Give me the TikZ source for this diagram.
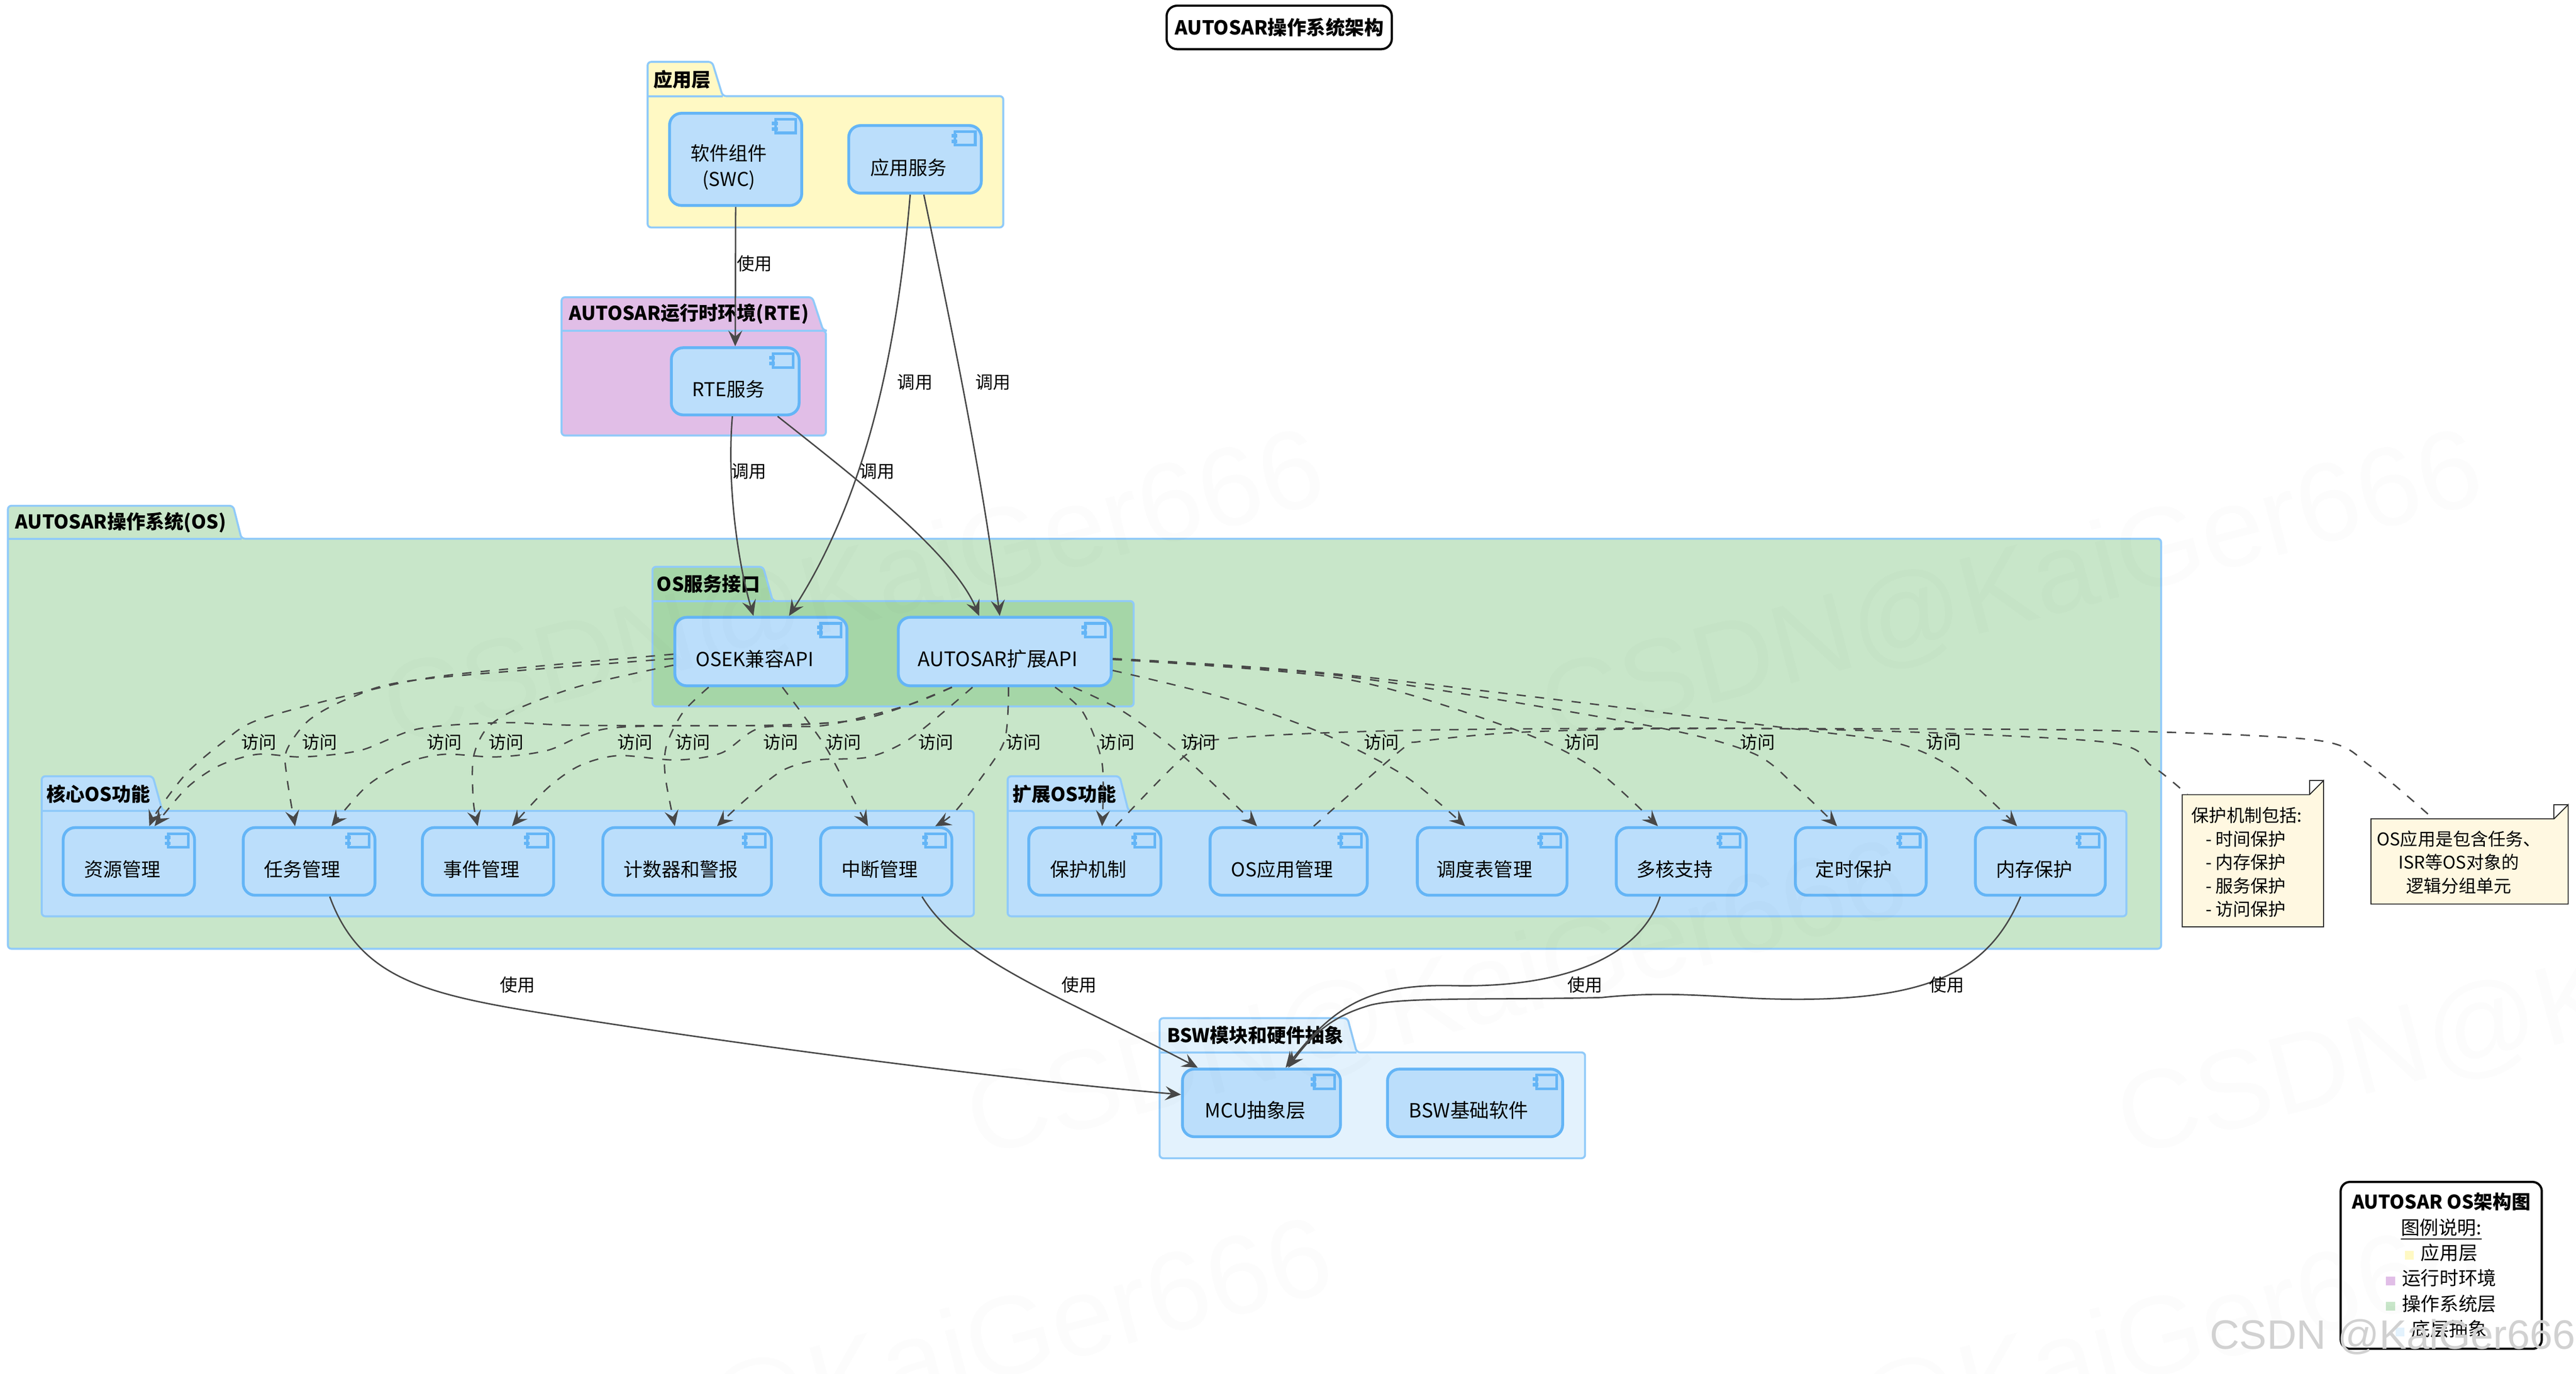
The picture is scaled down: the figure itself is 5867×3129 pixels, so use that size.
\documentclass[tikz,border=0pt]{standalone}
\usepackage{fontspec}
\setmainfont{Noto Sans CJK SC}
\newfontfamily\wmfont{Liberation Sans}
\usetikzlibrary{arrows.meta}
\definecolor{pkgline}{HTML}{90CAF9}
\definecolor{compline}{HTML}{64B5F6}
\definecolor{compfill}{HTML}{BBDEFB}
\definecolor{appfill}{HTML}{FFF9C4}
\definecolor{rtefill}{HTML}{E1BEE7}
\definecolor{osfill}{HTML}{C8E6C9}
\definecolor{apifill}{HTML}{A5D6A7}
\definecolor{bswfill}{HTML}{E3F2FD}
\definecolor{notefill}{HTML}{FFF8E1}
\definecolor{linkcol}{HTML}{484848}
\tikzset{
  dims/.style 2 args={minimum width=#1*0.2pt,minimum height=#2*0.2pt},
  comp/.style={draw=compline,fill=compfill,line width=1.3pt,rounded corners=5.4pt,inner sep=0pt},
  pkg/.style={draw=pkgline,line width=0.9pt,rounded corners=1.6pt},
  pkgtitle/.style={inner sep=0pt,font=\fontsize{8.7}{11}\selectfont\bfseries},
  comptext/.style={inner sep=0pt,align=center,font=\fontsize{8.7}{11.6}\selectfont},
  linktext/.style={inner sep=0pt,font=\fontsize{8}{10}\selectfont},
  notetext/.style={inner sep=0pt,font=\fontsize{8}{10.7}\selectfont},
  notebox/.style={inner sep=0pt},
  noteline/.style={draw=black!85,fill=notefill,line width=0.45pt},
  uselink/.style={draw=linkcol,line width=0.65pt,-{Stealth[length=7.2pt,width=6.4pt,inset=2.8pt]}},
  dashlink/.style={uselink,dash pattern=on 4.2pt off 4.2pt},
  notelink/.style={draw=linkcol,line width=0.65pt,dash pattern=on 4.2pt off 4.2pt},
  wmark/.style={inner sep=0pt,rotate=14.7,text=black,text opacity=0.012,font=\wmfont\fontsize{51}{51}\selectfont},
}
\newcommand{\compicon}[1]{%
  \draw[draw=compline,fill=compfill,line width=1.2pt] (#1.north east) ++(-63,17) rectangle ++(46,31);
  \fill[compline] (#1.north east) ++(-71,22) rectangle ++(13,8);
  \fill[compline] (#1.north east) ++(-71,35) rectangle ++(13,8);
}
\newcommand{\swatch}[1]{\textcolor{#1}{\rule{4pt}{4pt}}\hspace{3.2pt}}
\newcommand{\notefold}[1]{%
  \draw[noteline] (#1.north west) -- ([xshift=-6.4pt]#1.north east) -- ([yshift=-6.4pt]#1.north east) -- (#1.south east) -- (#1.south west) -- cycle;
  \draw[noteline,fill=none] ([xshift=-6.4pt]#1.north east) -- ([xshift=-6.4pt,yshift=-6.4pt]#1.north east) -- ([yshift=-6.4pt]#1.north east);
}
\begin{document}
\begin{tikzpicture}[x=0.2pt,y=0.2pt,yscale=-1,xscale=1]
\clip (0,0) rectangle (5867,3129);

% Title
\node (title) [draw=black,line width=1pt,rounded corners=4.8pt,inner sep=0pt,dims={513}{99},font=\fontsize{8.8}{11}\selectfont\bfseries] at (2913.5,62.5) {AUTOSAR操作系统架构};

%Package: application layer
\draw [pkg,fill=appfill] (1475,219) -- (1475,141) -- (1622,141) -- (1646,219) -- (2285,219) -- (2285,518) -- (1475,518) -- cycle;
\draw [pkg] (1475,219) -- (1646,219);
\node (apptitle) [pkgtitle] at (1554,181) {应用层};
%Package: runtime environment
\draw [pkg,fill=rtefill] (1279,753) -- (1279,677) -- (1850,677) -- (1875,753) -- (1881,753) -- (1881,992) -- (1279,992) -- cycle;
\draw [pkg] (1279,753) -- (1875,753);
\node (rtetitle) [pkgtitle] at (1569,715) {AUTOSAR运行时环境(RTE)};
%Package: operating system
\draw [pkg,fill=osfill] (18,1227) -- (18,1152) -- (531,1152) -- (550,1227) -- (4922,1227) -- (4922,2161) -- (18,2161) -- cycle;
\draw [pkg] (18,1227) -- (550,1227);
\node (ostitle) [pkgtitle] at (275,1190) {AUTOSAR操作系统(OS)};
%Package: service interface
\draw [pkg,fill=apifill] (1486,1369) -- (1486,1291) -- (1738,1291) -- (1760,1369) -- (2582,1369) -- (2582,1609) -- (1486,1609) -- cycle;
\draw [pkg] (1486,1369) -- (1760,1369);
\node (apititle) [pkgtitle] at (1614,1330) {OS服务接口};
%Package: core functions
\draw [pkg,fill=compfill] (95,1847) -- (95,1768) -- (348,1768) -- (370,1847) -- (2218,1847) -- (2218,2087) -- (95,2087) -- cycle;
\draw [pkg] (95,1847) -- (370,1847);
\node (coretitle) [pkgtitle] at (224,1809) {核心OS功能};
%Package: extended functions
\draw [pkg,fill=compfill] (2295,1847) -- (2295,1768) -- (2550,1768) -- (2570,1847) -- (4843,1847) -- (4843,2087) -- (2295,2087) -- cycle;
\draw [pkg] (2295,1847) -- (2570,1847);
\node (exttitle) [pkgtitle] at (2424,1809) {扩展OS功能};
%Package: BSW
\draw [pkg,fill=bswfill] (2641,2397) -- (2641,2319) -- (3069,2319) -- (3090,2397) -- (3610,2397) -- (3610,2638) -- (2641,2638) -- cycle;
\draw [pkg] (2641,2397) -- (3090,2397);
\node (bswtitle) [pkgtitle] at (2859,2358) {BSW模块和硬件抽象};

%Components
\node (swc) [comp,dims={301}{210}] at (1675.5,363) {};
\node (appsvc) [comp,dims={302}{154}] at (2084,363) {};
\node (rte) [comp,dims={291}{153}] at (1674.5,868.5) {};
\node (osek) [comp,dims={392}{156}] at (1733,1484) {};
\node (api) [comp,dims={485}{156}] at (2288.5,1484) {};
\node (res) [comp,dims={299}{154}] at (293.5,1962) {};
\node (task) [comp,dims={300}{154}] at (704,1962) {};
\node (evt) [comp,dims={299}{154}] at (1111.5,1962) {};
\node (alarm) [comp,dims={384}{154}] at (1565,1962) {};
\node (irq) [comp,dims={299}{154}] at (2018.5,1962) {};
\node (prot) [comp,dims={301}{154}] at (2493.5,1962) {};
\node (osapp) [comp,dims={358}{154}] at (2935,1962) {};
\node (sched) [comp,dims={341}{154}] at (3398.5,1962) {};
\node (mcore) [comp,dims={296}{154}] at (3829,1962) {};
\node (tmprot) [comp,dims={298}{154}] at (4238,1962) {};
\node (memprot) [comp,dims={296}{154}] at (4647,1962) {};
\node (mcu) [comp,dims={360}{154}] at (2873,2512) {};
\node (bswsw) [comp,dims={399}{154}] at (3359.5,2512) {};
\compicon{swc} \compicon{appsvc} \compicon{rte} \compicon{osek} \compicon{api}
\compicon{res} \compicon{task} \compicon{evt} \compicon{alarm} \compicon{irq}
\compicon{prot} \compicon{osapp} \compicon{sched} \compicon{mcore} \compicon{tmprot} \compicon{memprot}
\compicon{mcu} \compicon{bswsw}

% Text Node
\node (swctext) [comptext] at (1660,381) {软件组件\\(SWC)};
\node (appsvctext) [comptext] at (2069,382) {应用服务};
\node (rtetext) [comptext] at (1659,886) {RTE服务};
\node (osektext) [comptext,font=\fontsize{8.8}{11.6}\selectfont] at (1719,1501) {OSEK兼容API};
\node (apitext) [comptext,font=\fontsize{9.1}{11.6}\selectfont] at (2272,1501) {AUTOSAR扩展API};
\node (restext) [comptext] at (279,1980) {资源管理};
\node (tasktext) [comptext] at (688,1980) {任务管理};
\node (evttext) [comptext] at (1097,1980) {事件管理};
\node (alarmtext) [comptext] at (1551,1980) {计数器和警报};
\node (irqtext) [comptext] at (2004,1980) {中断管理};
\node (prottext) [comptext] at (2479,1980) {保护机制};
\node (osapptext) [comptext] at (2920,1980) {OS应用管理};
\node (schedtext) [comptext] at (3381,1980) {调度表管理};
\node (mcoretext) [comptext] at (3814,1980) {多核支持};
\node (tmprottext) [comptext] at (4222,1980) {定时保护};
\node (memprottext) [comptext] at (4633,1980) {内存保护};
\node (mcutext) [comptext,font=\fontsize{8.9}{11.6}\selectfont] at (2859,2529) {MCU抽象层};
\node (bswswtext) [comptext,font=\fontsize{8.9}{11.6}\selectfont] at (3345,2529) {BSW基础软件};

%Notes
\node (note1) [notebox,dims={320}{299}] at (5131,1960.5) {};
\notefold{note1}
\node (note1text) [notetext,align=left] at (5117,1964) {保护机制包括:\\\hspace*{6.4pt}- 时间保护\\\hspace*{6.4pt}- 内存保护\\\hspace*{6.4pt}- 服务保护\\\hspace*{6.4pt}- 访问保护};
\node (note2) [notebox,dims={447}{192}] at (5624.5,1962) {};
\notefold{note2}
\node (note2text) [notetext,align=center] at (5600,1964) {OS应用是包含任务、\\ISR等OS对象的\\逻辑分组单元};

%Legend
\node (legend) [draw=black,line width=1pt,rounded corners=4.2pt,inner sep=0pt,dims={458}{380},align=center,font=\fontsize{8.6}{11.6}\selectfont] at (5560,2882) {{\bfseries AUTOSAR OS架构图}\\\underline{图例说明:}\\\swatch{appfill}应用层\\\swatch{rtefill}运行时环境\\\swatch{osfill}操作系统层\\\swatch{bswfill}底层抽象};

%Solid links
\draw [uselink] (swc.south) -- (rte.north);
\draw [uselink] (appsvc.south -| 2073,0) .. controls (2040,840) and (1960,1150) .. (osek.north -| 1797,0);
\draw [uselink] (appsvc.south -| 2104,0) .. controls (2170,760) and (2240,1100) .. (api.north -| 2277,0);
\draw [uselink] (rte.south -| 1668,0) .. controls (1655,1100) and (1680,1280) .. (osek.north -| 1716,0);
\draw [uselink] (rte.south -| 1771,0) .. controls (1950,1090) and (2170,1260) .. (api.north -| 2230,0);
\draw [uselink] (task.south -| 751,0) .. controls (820,2230) and (970,2265) .. (1250,2310) .. controls (1700,2382) and (2300,2460) .. (mcu.west |- 0,2493);
\draw [uselink] (irq.south -| 2100,0) .. controls (2190,2190) and (2420,2270) .. (mcu.north -| 2728,0);
\draw [uselink] (mcore.south -| 3781,0) .. controls (3740,2170) and (3580,2250) .. (3313,2245) .. controls (3120,2240) and (3040,2290) .. (mcu.north -| 2928,0);
\draw [uselink] (memprot.south -| 4602,0) .. controls (4530,2210) and (4400,2290) .. (4000,2274) .. controls (3880,2268) and (3780,2258) .. (3648,2272) .. controls (3400,2278) and (3200,2270) .. (3122,2289) .. controls (3050,2310) and (3000,2340) .. (mcu.north -| 2934,0);

%Dashed links from OSEK
\draw [dashlink] plot [smooth] coordinates {(osek.west |- 0,1490) (1027,1537) (821,1577) (587,1640) (506,1692) (425,1761) (359,1847) (res.north -| 340,0)};
\draw [dashlink] plot [smooth] coordinates {(osek.west |- 0,1500) (953,1548) (799,1589) (704,1640) (653,1709) (653,1767) (task.north -| 672,0)};
\draw [dashlink] plot [smooth] coordinates {(osek.west |- 0,1515) (1320,1563) (1173,1617) (1108,1660) (1078,1726) (1078,1824) (evt.north -| 1088,0)};
\draw [dashlink] plot [smooth] coordinates {(osek.south -| 1614,0) (1555,1623) (1518,1698) (1515,1767) (alarm.north -| 1537,0)};
\draw [dashlink] plot [smooth] coordinates {(osek.south -| 1782,0) (1834,1635) (1885,1709) (1951,1835) (irq.north -| 1977,0)};

%Dashed links from AUTOSAR API
\draw [dashlink] plot [smooth] coordinates {(api.south -| 2168,0) (2068,1606) (1951,1640) (1760,1652) (1320,1652) (1144,1646) (953,1660) (821,1709) (689,1724) (587,1718) (499,1744) (425,1795) (res.north -| 352,0)};
\draw [dashlink] plot [smooth] coordinates {(api.south -| 2168,0) (2068,1606) (1951,1640) (1760,1652) (1394,1658) (1247,1709) (1130,1724) (1012,1718) (924,1738) (836,1790) (task.north -| 755,0)};
\draw [dashlink] plot [smooth] coordinates {(api.south -| 2168,0) (2068,1606) (1880,1652) (1731,1658) (1643,1715) (1540,1731) (1408,1721) (1320,1744) (1247,1795) (evt.north -| 1166,0)};
\draw [dashlink] plot [smooth] coordinates {(api.south -| 2215,0) (2076,1680) (1980,1724) (1863,1731) (1782,1755) (1702,1818) (alarm.north -| 1633,0)};
\draw [dashlink] plot [smooth] coordinates {(api.south -| 2297,0) (2288,1686) (2230,1778) (2171,1853) (irq.north -| 2130,0)};
\draw [dashlink] plot [smooth] coordinates {(api.south -| 2403,0) (2467,1623) (2510,1738) (prot.north -| 2510,0)};
\draw [dashlink] plot [smooth] coordinates {(api.south -| 2445,0) (2562,1623) (2699,1726) (osapp.north -| 2863,0)};
\draw [dashlink] plot [smooth] coordinates {(api.east |- 0,1527) (2786,1589) (3009,1669) (3199,1767) (sched.north -| 3337,0)};
\draw [dashlink] plot [smooth] coordinates {(api.east |- 0,1502) (3061,1546) (3440,1658) (3629,1749) (mcore.north -| 3776,0)};
\draw [dashlink] plot [smooth] coordinates {(api.east |- 0,1501) (3061,1540) (3750,1652) (3991,1715) (4094,1795) (tmprot.north -| 4184,0)};
\draw [dashlink] plot [smooth] coordinates {(api.east |- 0,1500) (3061,1537) (4077,1659) (4318,1692) (4456,1755) (memprot.north -| 4594,0)};

%Note links
\draw [notelink] plot [smooth] coordinates {(prot.north -| 2541,0) (2699,1721) (2785,1683) (3233,1663) (4077,1660) (4783,1689) (4900,1744) (note1.north -| 4982,0)};
\draw [notelink] plot [smooth] coordinates {(osapp.north -| 2992,0) (3190,1709) (3233,1689) (3440,1669) (3750,1660) (4266,1660) (4800,1664) (5276,1686) (5399,1745) (note2.north -| 5542,0)};

% Text Node
\node (lb1) [linktext] at (1718,600) {使用};
\node (lb2) [linktext] at (2084,871) {调用};
\node (lb3) [linktext] at (2262,871) {调用};
\node (lb4) [linktext] at (1706,1074) {调用};
\node (lb5) [linktext] at (1998,1074) {调用};
\node (lb6) [linktext] at (1179,2243) {使用};
\node (lb7) [linktext] at (2458,2243) {使用};
\node (lb8) [linktext] at (3610,2243) {使用};
\node (lb9) [linktext] at (4434,2243) {使用};
\node (acc1) [linktext] at (590,1691) {访问};
\node (acc2) [linktext] at (728,1691) {访问};
\node (acc3) [linktext] at (1012,1691) {访问};
\node (acc4) [linktext] at (1153,1691) {访问};
\node (acc5) [linktext] at (1446,1691) {访问};
\node (acc6) [linktext] at (1578,1691) {访问};
\node (acc7) [linktext] at (1778,1691) {访问};
\node (acc8) [linktext] at (1922,1691) {访问};
\node (acc9) [linktext] at (2131,1691) {访问};
\node (acc10) [linktext] at (2331,1691) {访问};
\node (acc11) [linktext] at (2544,1691) {访问};
\node (acc12) [linktext] at (2730,1691) {访问};
\node (acc13) [linktext] at (3147,1691) {访问};
\node (acc14) [linktext] at (3603,1691) {访问};
\node (acc15) [linktext] at (4003,1691) {访问};
\node (acc16) [linktext] at (4427,1691) {访问};

%Watermark
\node (wm1) [wmark] at (1946,1347) {CSDN@KaiGer666};
\node (wm2) [wmark] at (4584,1347) {CSDN@KaiGer666};
\node (wm3) [wmark] at (3274,2283) {CSDN@KaiGer666};
\node (wm4) [wmark] at (5894,2283) {CSDN@KaiGer666};
\node (wm5) [wmark] at (1965,3143) {CSDN@KaiGer666};
\node (wm6) [wmark] at (4584,3143) {CSDN@KaiGer666};
\node (wm7) [inner sep=0pt,text=black!18,anchor=east,font=\wmfont\fontsize{18.7}{20}\selectfont] at (5867,3045) {CSDN @KaiGer666};

\end{tikzpicture}
\end{document}
